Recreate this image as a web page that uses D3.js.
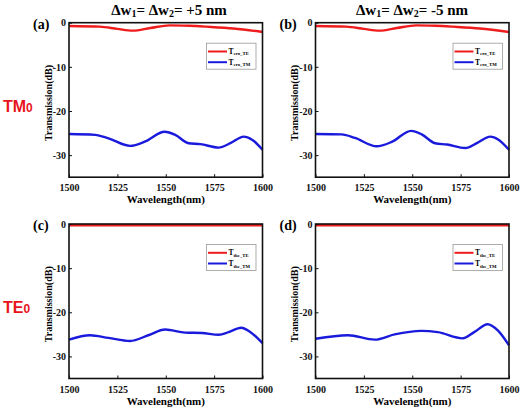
<!DOCTYPE html>
<html>
<head>
<meta charset="utf-8">
<script src="https://cdn.jsdelivr.net/npm/d3@7"></script>
<style>
  body { margin: 0; background: #fff; }
  text { font-family: "Liberation Serif", "Times New Roman", serif; font-weight: bold; }
</style>
</head>
<body>
<script>

// wavelength samples (nm) and transmission (dB)
var wlA_TE = [1500, 1516, 1525, 1533, 1542, 1552, 1562, 1571, 1585, 1600];
var tA_TE  = [-0.75, -0.9, -1.4, -1.8, -1.2, -0.6, -0.7, -0.9, -1.3, -2.1];
var wlA_TM = [1500, 1513.5, 1520.4, 1531.6, 1539.4, 1549.4, 1554.9, 1561.8, 1567.9, 1577.4, 1583.4, 1590.3, 1594.6, 1600];
var tA_TM  = [-25.2, -25.4, -26.2, -27.9, -26.9, -24.7, -25.4, -27.3, -27.5, -28.3, -27.3, -25.8, -26.5, -28.8];

var wlB_TE = [1500, 1516, 1525, 1533, 1542, 1552, 1562, 1571, 1585, 1600];
var tB_TE  = [-0.75, -0.9, -1.4, -1.8, -1.2, -0.6, -0.7, -0.9, -1.3, -2.1];
var wlB_TM = [1500, 1513.5, 1520.4, 1531.6, 1539.4, 1549.4, 1554.9, 1561.8, 1567.9, 1577.4, 1583.4, 1590.3, 1594.6, 1600];
var tB_TM  = [-25.2, -25.3, -26.1, -28.0, -27.0, -24.5, -25.3, -27.3, -27.6, -28.4, -27.3, -25.8, -26.5, -28.8];

var wlC_TE = [1500, 1550, 1600];
var tC_TE  = [-0.3, -0.3, -0.3];
var wlC_TM = [1500, 1510.9, 1520.4, 1531.6, 1541, 1549.7, 1560, 1568.7, 1577.4, 1582.5, 1589, 1593.8, 1600];
var tC_TM  = [-26.2, -25.2, -25.8, -26.5, -25.2, -23.9, -24.6, -24.7, -25.1, -24.5, -23.5, -24.5, -27.0];

var wlD_TE = [1500, 1550, 1600];
var tD_TE  = [-0.3, -0.3, -0.3];
var wlD_TM = [1500, 1516.8, 1530.6, 1540.9, 1554.6, 1563.2, 1576.1, 1582, 1589, 1594.2, 1600];
var tD_TM  = [-26.0, -25.2, -26.2, -25.0, -24.2, -24.5, -25.9, -24.5, -22.7, -24.1, -27.5];

var xTicks = [1500, 1525, 1550, 1575, 1600];
var yTicks = [0, -10, -20, -30];

var svg = d3.select('body').append('svg')
	.attr('width', 520)
	.attr('height', 409);

function zip(xs, ys){
	return xs.map(function(d, i){ return [d, ys[i]]; });
}

// plain hyphen minus like the original figure
function num(d){ return String(d); }

function panel(opt){
	var x = d3.scaleLinear().domain([1500, 1600]).range([opt.left, opt.left + 193.5]),
		y = d3.scaleLinear().domain([-35, 0]).range([opt.top + 154.5, opt.top]);

	var g = svg.append('g');

	// curves
	var line = d3.line()
		.x(function(d){ return x(d[0]); })
		.y(function(d){ return y(d[1]); })
		.curve(d3.curveMonotoneX);

	g.append('path').datum(zip(opt.te[0], opt.te[1]))
		.attr('d', line).attr('fill', 'none')
		.attr('stroke', '#ee1c1c').attr('stroke-width', 2.4);
	g.append('path').datum(zip(opt.tm[0], opt.tm[1]))
		.attr('d', line).attr('fill', 'none')
		.attr('stroke', '#1a1adc').attr('stroke-width', 2.4);

	// axes, ticks pointing inward
	var xa = d3.axisBottom(x).tickValues(xTicks).tickFormat(num)
		.tickSizeInner(-3).tickSizeOuter(0).tickPadding(7);
	var ya = d3.axisLeft(y).tickValues(yTicks).tickFormat(num)
		.tickSizeInner(-3).tickSizeOuter(0).tickPadding(3);

	var gx = g.append('g').attr('transform', 'translate(0,' + y(-35) + ')').call(xa);
	var gy = g.append('g').attr('transform', 'translate(' + x(1500) + ',0)').call(ya);
	[gx, gy].forEach(function(a){
		a.select('.domain').remove();
		a.selectAll('text').attr('font-size', 10).attr('fill', '#111')
			.style('font-family', '"Liberation Serif", serif');
		a.selectAll('line').attr('stroke', '#111');
	});

	// frame
	g.append('rect')
		.attr('x', x(1500)).attr('y', y(0))
		.attr('width', x(1600) - x(1500)).attr('height', y(-35) - y(0))
		.attr('fill', 'none').attr('stroke', '#111').attr('stroke-width', 1.6);

	// axis titles
	g.append('text')
		.attr('x', (x(1500) + x(1600)) / 2).attr('y', y(-35) + 26)
		.attr('text-anchor', 'middle').attr('font-size', 11)
		.text('Wavelength(nm)');
	g.append('text')
		.attr('transform', 'translate(' + (x(1500) - 17.5) + ',' + (y(-17.5) + 3) + ') rotate(-90)')
		.attr('text-anchor', 'middle').attr('font-size', 10)
		.text('Transmission(dB)');

	// panel letter
	g.append('text')
		.attr('x', x(1500) - 36).attr('y', y(0) + 6)
		.attr('font-size', 14)
		.text(opt.letter);

	// legend
	var lx = x(1500) + 137.5, ly = y(0) + 20.5;
	var lg = g.append('g').attr('transform', 'translate(' + lx + ',' + ly + ')');
	lg.append('rect').attr('width', 49.5).attr('height', 26)
		.attr('fill', '#fff').attr('stroke', '#999').attr('stroke-width', 0.8);
	[['#ee1c1c', 'TE', 8.3], ['#1a1adc', 'TM', 19]].forEach(function(d){
		lg.append('line').attr('x1', 1.5).attr('x2', 20.5).attr('y1', d[2]).attr('y2', d[2])
			.attr('stroke', d[0]).attr('stroke-width', 2);
		var t = lg.append('text').attr('x', 22).attr('y', d[2] + 2.5).attr('font-size', 7.5);
		t.append('tspan').text('T');
		t.append('tspan').attr('font-size', 4.8).attr('dy', 1.5).text(opt.sub + '_' + d[1]);
	});
}

function title(cx, sign){
	var t = svg.append('text').attr('x', cx).attr('y', 15)
		.attr('text-anchor', 'middle').attr('font-size', 15);
	t.append('tspan').text('\u0394w');
	t.append('tspan').attr('font-size', 10).attr('dy', 1.5).text('1');
	t.append('tspan').attr('dy', -1.5).text('= \u0394w');
	t.append('tspan').attr('font-size', 10).attr('dy', 1.5).text('2');
	t.append('tspan').attr('dy', -1.5).text('= ' + sign + '5 nm');
}

function modeLabel(yy, main){
	var t = svg.append('text').attr('x', 3).attr('y', yy)
		.attr('fill', '#e8141c').attr('font-size', 16)
		.style('font-family', '"Liberation Sans", Arial, sans-serif');
	t.append('tspan').text(main);
	t.append('tspan').attr('font-size', 12).text('0');
}

panel({ left: 69, top: 22.7, letter: '(a)', sub: 'cro', te: [wlA_TE, tA_TE], tm: [wlA_TM, tA_TM] });
panel({ left: 315.5, top: 22.7, letter: '(b)', sub: 'cro', te: [wlB_TE, tB_TE], tm: [wlB_TM, tB_TM] });
panel({ left: 69, top: 224, letter: '(c)', sub: 'the', te: [wlC_TE, tC_TE], tm: [wlC_TM, tC_TM] });
panel({ left: 315.5, top: 224, letter: '(d)', sub: 'the', te: [wlD_TE, tD_TE], tm: [wlD_TM, tD_TM] });

title(169, '+');
title(412, '-');

modeLabel(112, 'TM');
modeLabel(313, 'TE');

</script>
</body>
</html>
